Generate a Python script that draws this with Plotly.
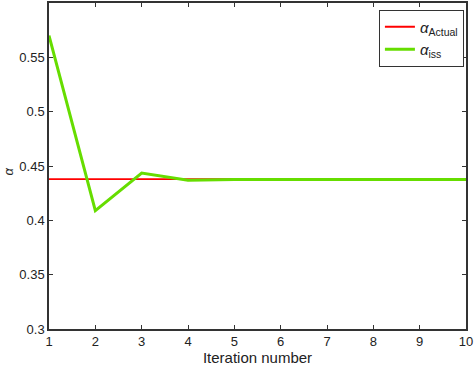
import plotly.graph_objects as go

iterations = [1, 2, 3, 4, 5, 6, 7, 8, 9, 10]
alpha_actual = [0.438] * 10
alpha_iss = [0.570, 0.409, 0.4435, 0.4368, 0.4375, 0.4375, 0.4375, 0.4375, 0.4375, 0.4375]
x_ticks = [1, 2, 3, 4, 5, 6, 7, 8, 9, 10]
y_ticks = [0.3, 0.35, 0.4, 0.45, 0.5, 0.55]
y_tick_labels = ["0.3", "0.35", "0.4", "0.45", "0.5", "0.55"]

fig = go.Figure()
fig.add_trace(go.Scatter(x=iterations, y=alpha_actual, mode="lines",
                         line=dict(color="#ff0000", width=1.8),
                         name="<i>α</i><sub>Actual</sub>"))
fig.add_trace(go.Scatter(x=iterations, y=alpha_iss, mode="lines",
                         line=dict(color="#66dd00", width=3),
                         name="<i>α</i><sub>iss</sub>"))

fig.add_annotation(text="<i>α</i>", xref="paper", yref="y", x=-41 / 418, y=0.445,
                   showarrow=False, textangle=-90, xanchor="center", yanchor="middle",
                   font=dict(size=13, color="#222"))

fig.update_layout(
    width=474, height=371,
    margin=dict(l=49, r=7, t=1, b=42),
    paper_bgcolor="white", plot_bgcolor="white",
    font=dict(family="Liberation Sans, Arial, sans-serif", size=13, color="#222"),
    showlegend=True,
    legend=dict(x=0.995, y=0.98, xanchor="right", yanchor="top",
                bgcolor="white", bordercolor="#333", borderwidth=1,
                font=dict(size=15), tracegroupgap=0),
    xaxis=dict(range=[1, 10], tickvals=x_ticks, ticks="inside", ticklen=4,
               ticklabeloverflow="allow",
               showgrid=False, zeroline=False, showline=True, linecolor="#333",
               linewidth=1.5, mirror="ticks", tickcolor="#333",
               title=dict(text="Iteration number", font=dict(size=15), standoff=4)),
    yaxis=dict(range=[0.3, 0.6], tickvals=y_ticks, ticktext=y_tick_labels,
               ticks="inside", ticklen=4,
               showgrid=False, zeroline=False, showline=True, linecolor="#333",
               linewidth=1.5, mirror="ticks", tickcolor="#333"),
)

fig.write_html("out.html", config={"displayModeBar": False},
               post_script="document.body.style.margin='0px';")
